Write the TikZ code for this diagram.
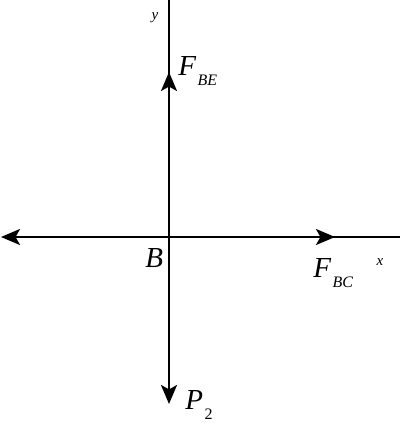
\documentclass[tikz,border=0pt]{standalone}
\usepackage{fontspec}
\setmainfont{Liberation Serif}
\usetikzlibrary{arrows.meta}
\tikzset{
axis/.style={draw,line width=1.1pt},
force/.style={draw,line width=1.1pt,-{Stealth[length=9.5pt,width=8pt,inset=2.2pt]}},
lbl/.style={inner sep=0pt,anchor=base west,font=\fontsize{14.5}{16}\selectfont\itshape},
axlbl/.style={inner sep=0pt,anchor=base,font=\fontsize{7.5}{8}\selectfont\itshape}
}
\newcommand{\sub}[1]{\kern0.8pt\raisebox{-5pt}{\fontsize{8}{9}\selectfont #1}}

\begin{document}
\begin{tikzpicture}[x=0.5pt,y=-0.5pt]
\useasboundingbox (0,0) rectangle (400,427);
\coordinate (B) at (169,237);
\coordinate (ytop) at (169,0);
\coordinate (xend) at (400,237);
\coordinate (tBE) at (169,72);
\coordinate (tBC) at (335,237);
\coordinate (tP) at (169,404);
\coordinate (tL) at (1,237);

\draw[axis] (B) -- (ytop);
\draw[axis] (B) -- (xend);

\foreach \tip in {tBE,tBC,tP,tL}
  \draw[force] (B) -- (\tip);

\node[axlbl] (ylbl) at (155,20) {y};
\node[axlbl] (xlbl) at (380,265) {x};
\node[lbl] (FBE) at (178,76) {F\sub{BE}};
\node[lbl] (FBC) at (313,277) {F\sub{BC}};
\node[lbl] (Blbl) at (145,267) {B};
\node[lbl] (P2) at (185,409) {P\sub{\upshape 2}};
\end{tikzpicture}
\end{document}
